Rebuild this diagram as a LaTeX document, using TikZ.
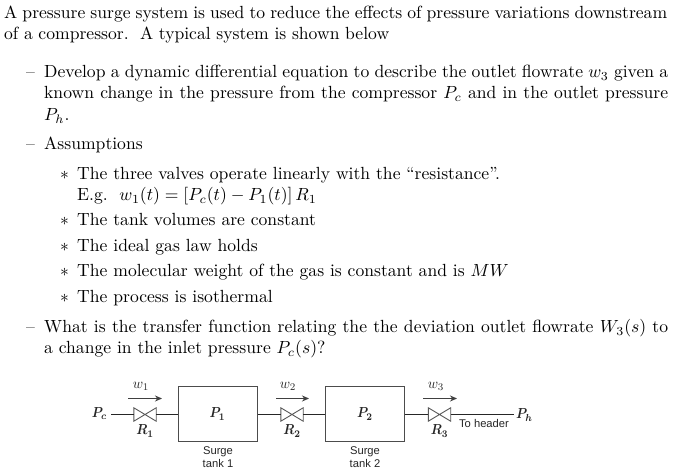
\documentclass[tikz,border=0pt]{standalone}
\usepackage{graphicx}
\usepackage[no-math]{fontspec}
\newfontfamily\lblsf{Liberation Sans}
\usetikzlibrary{arrows.meta}
\newcommand\bodyscale[1]{\scalebox{1.76}{\fontsize{10}{12}\selectfont #1}}
\newcommand\fitline[2]{\bodyscale{\makebox[#1pt][s]{#2}}}
\newcommand\symtxt[1]{\scalebox{1.27}[1.45]{\fontsize{10}{12}\selectfont\boldmath $#1$}}
\newcommand\flowtxt[1]{\scalebox{1.4}[1.45]{\fontsize{10}{12}\selectfont $#1$}}
\tikzset{
  txt/.style={anchor=base west,inner sep=0pt,yshift=-0.5pt},
  mrk/.style={anchor=base,inner sep=0pt,yshift=-0.5pt},
  tank/.style={draw=black!70,line width=1pt,minimum width=79pt,minimum height=55pt,inner sep=0pt},
  valvebox/.style={minimum width=22pt,minimum height=13pt,inner sep=0pt},
  bowtie/.style={draw=black!65,line width=0.9pt},
  pipe/.style={draw=black!85,line width=1.4pt},
  flow/.style={draw=black!75,line width=1.4pt,-{Stealth[length=7pt,width=6pt]}},
  sym/.style={inner sep=0pt,text=black!85},
  lbl/.style={inner sep=0pt,align=center,font=\lblsf\fontsize{11.2}{13.5}\selectfont,text=black!85}
}
\begin{document}
\begin{tikzpicture}[x=1pt,y=-1pt]
\useasboundingbox[fill=white] (0,0) rectangle (673,473);
% text
\node[txt] (l1) at (4,18) {\fitline{376.7}{A pressure surge system is used to reduce the effects of pressure variations downstream}};
\node[txt] (l2) at (4,39) {\fitline{218.75}{of a compressor.\ \ A typical system is shown below}};
\node[mrk] (d1) at (30.5,77) {\bodyscale{--}};
\node[txt] (l3) at (44,77) {\fitline{354.5}{Develop a dynamic differential equation to describe the outlet flowrate $w_3$ given a}};
\node[txt] (l4) at (44,98) {\fitline{354.5}{known change in the pressure from the compressor $P_c$ and in the outlet pressure}};
\node[txt] (l5) at (44,120) {\bodyscale{$P_h$.}};
\node[mrk] (d2) at (30.5,149) {\bodyscale{--}};
\node[txt] (l6) at (44,149) {\bodyscale{Assumptions}};
\node[mrk] (s1) at (64.5,179) {\bodyscale{$*$}};
\node[txt] (l7) at (77,179) {\bodyscale{The three valves operate linearly with the ``resistance''.}};
\node[txt] (l8) at (77,200) {\bodyscale{E.g.\ \ $w_1(t)=[P_c(t)-P_1(t)]\,R_1$}};
\node[mrk] (s2) at (64.5,225) {\bodyscale{$*$}};
\node[txt] (l9) at (77,225) {\bodyscale{The tank volumes are constant}};
\node[mrk] (s3) at (64.5,251) {\bodyscale{$*$}};
\node[txt] (l10) at (77,251) {\bodyscale{The ideal gas law holds}};
\node[mrk] (s4) at (64.5,276) {\bodyscale{$*$}};
\node[txt] (l11) at (77,276) {\bodyscale{The molecular weight of the gas is constant and is $MW$}};
\node[mrk] (s5) at (64.5,302) {\bodyscale{$*$}};
\node[txt] (l12) at (77,302) {\bodyscale{The process is isothermal}};
\node[mrk] (d3) at (30.5,332) {\bodyscale{--}};
\node[txt] (l13) at (44,332) {\fitline{354.5}{What is the transfer function relating the the deviation outlet flowrate $W_3(s)$ to}};
\node[txt] (l14) at (44,353) {\bodyscale{a change in the inlet pressure $P_c(s)$?}};
% diagram
\node[tank] (t1) at (217.5,414.5) {};
\node[tank] (t2) at (365,414.5) {};
\node[sym] (p1) at (217.5,414) {\symtxt{P_1}};
\node[sym] (p2) at (365,414) {\symtxt{P_2}};
\node[valvebox] (v1) at (145,414.5) {};
\node[valvebox] (v2) at (292,414.5) {};
\node[valvebox] (v3) at (439.5,414.5) {};
\foreach \v in {v1,v2,v3}
  \draw[bowtie] (\v.south west) -- (\v.north east) -- (\v.south east) -- (\v.north west) -- cycle;
\node[sym] (pc) at (99.5,413.5) {\symtxt{P_c}};
\node[sym] (ph) at (524.5,415) {\symtxt{P_h}};
\coordinate (pcend) at (111,414.5);
\coordinate (phend) at (514,414.5);
\draw[pipe] (pcend) -- (v1.west);
\draw[pipe] (v1.east) -- (t1.west);
\draw[pipe] (t1.east) -- (v2.west);
\draw[pipe] (v2.east) -- (t2.west);
\draw[pipe] (t2.east) -- (v3.west);
\draw[pipe] (v3.east) -- (phend);
\node[sym] (r1) at (145,431) {\symtxt{R_1}};
\node[sym] (r2) at (292,431) {\symtxt{R_2}};
\node[sym] (r3) at (439.5,431) {\symtxt{R_3}};
\node[sym] (w1) at (141,386) {\flowtxt{w_1}};
\node[sym] (w2) at (288,386) {\flowtxt{w_2}};
\node[sym] (w3) at (436,386) {\flowtxt{w_3}};
\coordinate (a1s) at (128,398.5); \coordinate (a1e) at (162,398.5);
\coordinate (a2s) at (276,398.5); \coordinate (a2e) at (309,398.5);
\coordinate (a3s) at (423,398.5); \coordinate (a3e) at (457,398.5);
\draw[flow] (a1s) -- (a1e);
\draw[flow] (a2s) -- (a2e);
\draw[flow] (a3s) -- (a3e);
\node[lbl] (c1) at (218,457) {Surge\\tank 1};
\node[lbl] (c2) at (365,457) {Surge\\tank 2};
\node[lbl] (hdr) at (484,423) {To header};
\end{tikzpicture}
\end{document}
